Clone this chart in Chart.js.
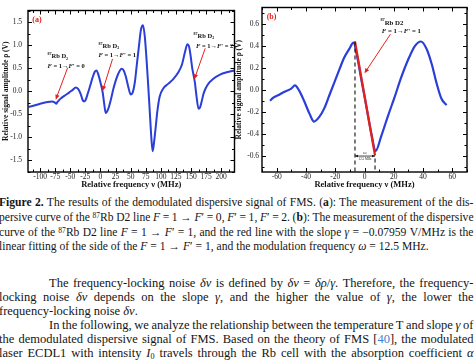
<!DOCTYPE html>
<html><head><meta charset="utf-8">
<script src="https://cdn.jsdelivr.net/npm/chart.js@4.4.0/dist/chart.umd.min.js"></script>
<style>
html,body{margin:0;padding:0;background:#fff;width:474px;height:361px;overflow:hidden;position:relative}
#wa{position:absolute;left:0;top:0;width:236px;height:196px}
#wb{position:absolute;left:234px;top:0;width:240px;height:196px}
.ln{position:absolute;white-space:nowrap;font-family:"Liberation Serif",serif;color:#151515;line-height:14px;height:14px}
.ln sup{font-size:0.65em;vertical-align:0.45em;line-height:0}
.ln sub{font-size:0.65em;vertical-align:-0.2em;line-height:0}
.ref{color:#3b7fd4}
</style></head><body>
<div id="wa"><canvas id="ca"></canvas></div>
<div id="wb"><canvas id="cb"></canvas></div>
<div id="txt"></div>
<script>
// ---------- data: panel (a) ----------
const freqA = [-119,-110,-100,-90,-80,-76,-73.5,-71,-66,-60,-52,-46,-41,-37,-33,-29.5,-27.5,-25,-21,-17,-13,-9.5,-6.5,-3.5,0,3.5,6,8.7,11,14,17.5,21,25,29.5,35,38.5,42,46,50,53,57,60,63.5,67,70.5,73.5,76,78.5,81.5,84.5,86.5,89,91.5,94,98,104,112,121,129,135,140,144,146.5,149,152,154.5,156.5,159,162.5,165,168,171,177,187,198,209,222];
const ampA  = [-0.34,-0.31,-0.27,-0.24,-0.22,-0.24,-0.27,-0.23,-0.16,-0.10,-0.03,0.03,0.08,0.05,-0.05,-0.19,-0.22,-0.20,-0.05,0.12,0.30,0.42,0.45,0.36,0.19,-0.01,-0.25,-0.47,-0.44,-0.34,-0.17,0.03,0.22,0.38,0.49,0.45,0.32,0.10,-0.07,-0.04,0.20,0.55,0.95,1.33,1.43,1.18,0.75,0.25,-0.40,-1.05,-1.30,-1.08,-0.78,-0.46,-0.12,0.06,0.16,0.27,0.41,0.58,0.85,1.02,0.98,0.80,0.50,0.33,0.18,-0.10,-0.38,-0.35,-0.20,-0.04,0.13,0.27,0.36,0.41,0.45];
const xTicksA  = [-100,-75,-50,-25,0,25,50,75,100,125,150,175,200];
const xLabelsA = ['-100','-75','-50','-25','0','25','50','75','100','125','150','175','200'];
const yTicksA  = [1.5,1.0,0.5,0,-0.5,-1.0,-1.5];
const yLabelsA = ['1.5','1.0','0.5','0.0','-0.5','-1.0','-1.5'];

// ---------- data: panel (b) ----------
const freqB = [-64.5,-62,-59,-55,-50,-47.5,-44.5,-41,-37.5,-34.5,-31,-27.5,-24,-20.5,-17,-14,-10.5,-7.5,-5,-2,0,3,5,7.5,11.5,16,20.5,25,30,34.5,38.5,42.5,46,49,52.5,56];
const ampB  = [-0.10,-0.07,-0.05,-0.02,0.01,0.04,-0.01,-0.11,-0.22,-0.29,-0.25,-0.17,-0.05,0.07,0.19,0.29,0.37,0.43,0.30,0.08,-0.06,-0.28,-0.42,-0.56,-0.42,-0.24,-0.07,0.11,0.28,0.40,0.44,0.37,0.23,0.07,-0.08,-0.14];
const fitFreqB = [-6.5, 7.2];
const fitAmpB  = [0.44, -0.60];
const xTicksB  = [-60,-40,-20,0,20,40,60];
const xLabelsB = ['-60','-40','-20','0','20','40','60'];
const yTicksB  = [0.6,0.4,0.2,0,-0.2,-0.4,-0.6];
const yLabelsB = ['0.6','0.4','0.2','0.0','-0.2','-0.4','-0.6'];

// ---------- styling ----------
const BLUE = '#2a3ed8', RED = '#e3211c', SERIF = '"Liberation Serif", serif';

function pts(xs, ys){ return xs.map((x,i)=>({x, y: ys[i]})); }

function rich(ctx, x, y, segs, size){
  let cx = x;
  ctx.textBaseline = 'middle'; ctx.textAlign = 'left';
  segs.forEach(s=>{
    const small = s.sup || s.sub;
    const sz = small ? size*0.62 : size;
    ctx.font = (s.it ? 'italic ' : '') + 'bold ' + sz + 'px ' + SERIF;
    const dy = s.sup ? -size*0.38 : (s.sub ? size*0.28 : 0);
    ctx.fillText(s.t, cx, y + dy);
    cx += ctx.measureText(s.t).width;
  });
}
function arrow(ctx, x1, y1, x2, y2, color){
  const ang = Math.atan2(y2-y1, x2-x1), L = 5, W = 2.2;
  ctx.save(); ctx.strokeStyle = color; ctx.fillStyle = color; ctx.lineWidth = 1;
  ctx.beginPath(); ctx.moveTo(x1,y1); ctx.lineTo(x2 - Math.cos(ang)*L*0.8, y2 - Math.sin(ang)*L*0.8); ctx.stroke();
  ctx.beginPath(); ctx.moveTo(x2,y2);
  ctx.lineTo(x2 - Math.cos(ang)*L + Math.sin(ang)*W, y2 - Math.sin(ang)*L - Math.cos(ang)*W);
  ctx.lineTo(x2 - Math.cos(ang)*L - Math.sin(ang)*W, y2 - Math.sin(ang)*L + Math.cos(ang)*W);
  ctx.closePath(); ctx.fill(); ctx.restore();
}

function framePlugin(minorX, minorY){
  return { id:'frame', afterDatasetsDraw(chart){
    const {ctx, chartArea:a, scales:{x, y}} = chart;
    ctx.save(); ctx.strokeStyle = '#000'; ctx.lineWidth = 1;
    ctx.beginPath();
    const tx = (v,len)=>{ const p = Math.round(x.getPixelForValue(v))+0.5;
      ctx.moveTo(p,a.bottom); ctx.lineTo(p,a.bottom-len); ctx.moveTo(p,a.top); ctx.lineTo(p,a.top+len); };
    const ty = (v,len)=>{ const p = Math.round(y.getPixelForValue(v))+0.5;
      ctx.moveTo(a.left,p); ctx.lineTo(a.left+len,p); ctx.moveTo(a.right,p); ctx.lineTo(a.right-len,p); };
    for(let v = Math.ceil(x.min/minorX)*minorX; v <= x.max; v += minorX) tx(v, 2.5);
    for(let v = Math.ceil(y.min/minorY - 1e-9)*minorY; v <= y.max + 1e-9; v += minorY) ty(v, 2.5);
    x.ticks.forEach(t=>tx(t.value, 4));
    y.ticks.forEach(t=>ty(t.value, 4));
    ctx.stroke();
    ctx.lineWidth = 1.4;
    ctx.strokeRect(a.left, a.top, a.right-a.left, a.bottom-a.top);
    ctx.restore();
  }};
}

function scaleCfg(min, max, ticks, labels, width, height, pad, title, titlePad){
  const c = {
    type:'linear', min, max,
    afterBuildTicks: s => { s.ticks = ticks.map(v=>({value:v})); },
    grid:{display:false, drawTicks:false}, border:{display:false},
    ticks:{padding:pad, autoSkip:false, maxRotation:0, color:'#222',
      font:{family:SERIF, size:7.5}, callback:(v,i)=>labels[i]},
    title:{display:true, text:title, color:'#111', padding:titlePad,
      font:{family:SERIF, size: width ? 7.5 : 8.5, weight:'bold'}}
  };
  if (width) c.afterFit = s => { s.width = width; };
  if (height) c.afterFit = s => { s.height = height; };
  return c;
}

// ---------- panel (a) ----------
const annA = { id:'annA', afterDraw(chart){
  const {ctx, scales:{x, y}} = chart;
  const X = v=>x.getPixelForValue(v), Y = v=>y.getPixelForValue(v);
  ctx.save();
  ctx.fillStyle = RED; ctx.font = 'bold 8px ' + SERIF; ctx.textBaseline='middle';
  ctx.fillText('(a)', X(-113), Y(1.54));
  ctx.fillStyle = '#111';
  const lab = (fx, fy1, fy2, fx2, last) => {
    rich(ctx, X(fx), Y(fy1), [{t:'87',sup:1},{t:'Rb D'},{t:'2',sub:1}], 6.5);
    rich(ctx, X(fx2), Y(fy2), [{t:'F',it:1},{t:' = 1→'},{t:'F',it:1},{t:"' = "+last}], 6.5);
  };
  lab(-87.8, 0.748, 0.546, -87.8, '0');
  lab(-3.1, 0.979, 0.769, -3.1, '1');
  lab(154.2, 1.189, 0.979, 158.2, '2');
  arrow(ctx, X(-54.3), Y(0.51), X(-74.1), Y(-0.183), RED);
  arrow(ctx, X(20), Y(0.70), X(3.5), Y(0.006), RED);
  arrow(ctx, X(173.5), Y(0.93), X(155.4), Y(0.258), RED);
  ctx.restore();
}};

new Chart(document.getElementById('ca'), {
  type:'line',
  data:{ datasets:[{ data: pts(freqA, ampA), borderColor: BLUE, borderWidth: 2,
    pointRadius: 0, cubicInterpolationMode:'monotone', fill:false }]},
  options:{
    responsive:true, maintainAspectRatio:false, animation:false, devicePixelRatio:1,
    layout:{padding:{top:5, right:1.5, bottom:0, left:0}},
    plugins:{legend:{display:false}, tooltip:{enabled:false}},
    scales:{
      x: scaleCfg(-120, 222, xTicksA, xLabelsA, 0, 24, 1, 'Relative frequency ν (MHz)', {top:0, bottom:5.9}),
      y: scaleCfg(-1.75, 1.75, yTicksA, yLabelsA, 28, 0, 6, 'Relative signal amplitude ρ (V)', {top:1.8, bottom:0})
    }
  },
  plugins:[framePlugin(12.5, 0.25), annA]
});

// ---------- panel (b) ----------
const annB = { id:'annB', afterDraw(chart){
  const {ctx, chartArea:a, scales:{x, y}} = chart;
  const X = v=>x.getPixelForValue(v), Y = v=>y.getPixelForValue(v);
  ctx.save();
  ctx.fillStyle = RED; ctx.font = 'bold 8px ' + SERIF; ctx.textBaseline='middle';
  ctx.fillText('(b)', X(-66.8), Y(0.661));
  ctx.fillStyle = '#111';
  rich(ctx, X(10.9), Y(0.609), [{t:'87',sup:1},{t:'Rb D2'}], 6.8);
  rich(ctx, X(11.8), Y(0.531), [{t:'F',it:1},{t:' = 1→'},{t:'F',it:1},{t:"' = 1"}], 6.8);
  arrow(ctx, X(17.7), Y(0.506), X(0), Y(0.15), RED);
  // dashed guides
  ctx.strokeStyle = '#111'; ctx.lineWidth = 1.1; ctx.setLineDash([4,3]);
  ctx.beginPath();
  ctx.moveTo(X(fitFreqB[0]), Y(fitAmpB[0])); ctx.lineTo(X(fitFreqB[0]), a.bottom);
  ctx.moveTo(X(fitFreqB[1]), Y(fitAmpB[1]) + 3); ctx.lineTo(X(fitFreqB[1]), a.bottom);
  ctx.stroke(); ctx.setLineDash([]);
  // omega bracket
  const yy = Y(fitAmpB[1]) + 0.5, xa = X(fitFreqB[0]), xb = X(fitFreqB[1]);
  ctx.lineWidth = 0.8; ctx.fillStyle = '#111';
  ctx.beginPath(); ctx.moveTo(xa, yy); ctx.lineTo(xb, yy); ctx.stroke();
  [[xa,1],[xb,-1]].forEach(([px,d])=>{ ctx.beginPath(); ctx.moveTo(px,yy); ctx.lineTo(px+3*d,yy-1.3); ctx.lineTo(px+3*d,yy+1.3); ctx.closePath(); ctx.fill(); });
  ctx.textAlign = 'center'; ctx.textBaseline = 'middle';
  ctx.font = '5px ' + SERIF; ctx.fillText('ω', (xa+xb)/2, yy - 3);
  ctx.font = '3.2px ' + SERIF; ctx.fillText('12.5 MHz', (xa+xb)/2, yy + 3);
  ctx.restore();
}};

new Chart(document.getElementById('cb'), {
  type:'line',
  data:{ datasets:[
    { data: pts(freqB, ampB), borderColor: BLUE, borderWidth: 2.2, pointRadius: 0, cubicInterpolationMode:'monotone', fill:false, order:2 },
    { data: pts(fitFreqB, fitAmpB), borderColor: RED, borderWidth: 2.2, pointRadius: 0, fill:false, order:1 }
  ]},
  options:{
    responsive:true, maintainAspectRatio:false, animation:false, devicePixelRatio:1,
    layout:{padding:{top:5, right:7, bottom:0, left:0}},
    plugins:{legend:{display:false}, tooltip:{enabled:false}},
    scales:{
      x: scaleCfg(-70, 70, xTicksB, xLabelsB, 0, 24, 1, 'Relative frequency ν (MHz)', {top:0, bottom:5.9}),
      y: scaleCfg(-0.75, 0.75, yTicksB, yLabelsB, 28, 0, 3, 'Relative signal amplitude ρ (V)', {top:1, bottom:0})
    }
  },
  plugins:[framePlugin(10, 0.1), annB]
});

// ---------- text below the figure ----------
const F = '<i>F</i>';
const textLines = [
  {c:203,   size:11.6, left:-1, w:474.5, j:1, html:'<b>Figure 2.</b> The results of the demodulated dispersive signal of FMS. (<b>a</b>): The measurement of the dis-'},
  {c:217.8, size:11.6, left:-1, w:474.5, j:1, html:'persive curve of the <sup>87</sup>Rb D2 line '+F+' = 1 → '+F+'′ = 0, '+F+'′ = 1, '+F+'′ = 2. (<b>b</b>): The measurement of the dispersive'},
  {c:232.6, size:11.6, left:-1, w:474.5, j:1, html:'curve of the <sup>87</sup>Rb D2 line '+F+' = 1 → '+F+'′ = 1, and the red line with the slope <i>γ</i> = −0.07959 V/MHz is the'},
  {c:247.4, size:11.6, left:-1, w:0,     j:0, html:'linear fitting of the side of the '+F+' = 1 → '+F+'′ = 1, and the modulation frequency <i>ω</i> = 12.5 MHz.'},
  {c:282.5, size:12.5, left:49, w:424.5, j:1, html:'The frequency-locking noise <i>δν</i> is defined by <i>δν</i> = <i>δρ</i>/<i>γ</i>. Therefore, the frequency-'},
  {c:296.6, size:12.5, left:-1, w:474.5, j:1, html:'locking noise <i>δν</i> depends on the slope <i>γ</i>, and the higher the value of <i>γ</i>, the lower the'},
  {c:310.7, size:12.5, left:-1, w:0,     j:0, html:'frequency-locking noise <i>δν</i>.'},
  {c:324.8, size:12.5, left:49, w:424.5, j:1, html:'In the following, we analyze the relationship between the temperature T and slope <i>γ</i> of'},
  {c:338.9, size:12.5, left:-1, w:474.5, j:1, html:'the demodulated dispersive signal of FMS. Based on the theory of FMS [<span class="ref">40</span>], the modulated'},
  {c:353,   size:12.5, left:-1, w:474.5, j:1, html:'laser ECDL1 with intensity <i>I</i><sub>0</sub> travels through the Rb cell with the absorption coefficient <i>α</i>'}
];
const txt = document.getElementById('txt');
textLines.forEach(L=>{
  const d = document.createElement('div');
  d.className = 'ln';
  d.style.left = L.left + 'px';
  d.style.top = (L.c - 7) + 'px';
  d.style.fontSize = L.size + 'px';
  d.innerHTML = L.html;
  txt.appendChild(d);
  if (L.j) {
    const w = d.getBoundingClientRect().width;
    const n = (d.textContent.match(/ /g) || []).length;
    if (n) d.style.wordSpacing = ((L.w - w) / n) + 'px';
  }
});
</script>
</body></html>
